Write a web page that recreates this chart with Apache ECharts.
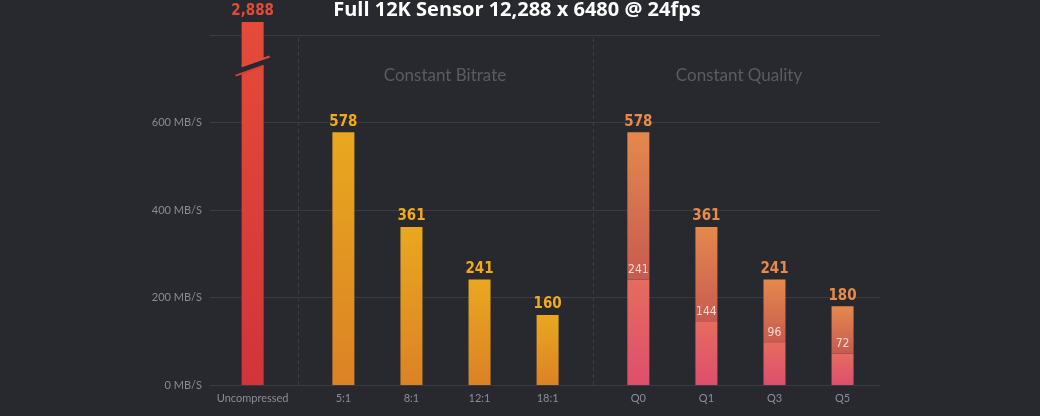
<!DOCTYPE html>
<html>
<head>
<meta charset="utf-8">
<script src="https://cdn.jsdelivr.net/npm/echarts@6/dist/echarts.min.js"></script>
<style>
  html, body { margin: 0; padding: 0; background: #27292e; }
  #chart { width: 1040px; height: 416px; }
</style>
</head>
<body>
<div id="chart"></div>
<script>
(function() {
  // values
  var chartTitle = 'Full 12K Sensor 12,288 x 6480 @ 24fps';
  var groupTitles = ['Constant Bitrate', 'Constant Quality'];
  var uncompressedLabel = 'Uncompressed';
  var uncompressedValue = 2888;
  var bitrateLabels = ['5:1', '8:1', '12:1', '18:1'];
  var bitrateValues = [578, 361, 241, 160];
  var qualityLabels = ['Q0', 'Q1', 'Q3', 'Q5'];
  var qualityValues = [578, 361, 241, 180];
  var qualityInner = [241, 144, 96, 72];
  var yTicks = [0, 200, 400, 600];
  var yMax = 800;
  var cutValue = 830;   // the uncompressed bar is drawn up to here
  var breakValue = 729; // where the break mark sits

  var bg = '#27292e';
  var grid = '#393b40';
  var cond = "'Liberation Sans Narrow', 'DejaVu Sans Condensed', sans-serif";
  var sans = "Lato, 'Open Sans', sans-serif";

  // slots on the category axis: 2 blanks between bars, 3 between groups
  var slots = [], dividers = [];
  [[uncompressedLabel], bitrateLabels, qualityLabels].forEach(function(g, gi) {
    if (gi > 0) {
      slots.push('gap' + slots.length);
      dividers.push('gap' + slots.length);
      slots.push('gap' + slots.length);
      slots.push('gap' + slots.length);
    }
    g.forEach(function(name, i) {
      if (i > 0) {
        slots.push('gap' + slots.length);
        slots.push('gap' + slots.length);
      }
      slots.push(name);
    });
  });

  function place(labels, values) {
    var out = slots.map(function() { return '-'; });
    labels.forEach(function(l, i) { out[slots.indexOf(l)] = values[i]; });
    return out;
  }
  function grad(top, bottom) {
    return new echarts.graphic.LinearGradient(0, 0, 0, 1, [
      { offset: 0, color: top }, { offset: 1, color: bottom }
    ]);
  }
  function topLabel(color) {
    return { show: true, position: 'top', distance: 3, color: color,
      fontFamily: cond, fontWeight: 'bold', fontSize: 15 };
  }

  var qualityTop = qualityValues.map(function(v, i) { return v - qualityInner[i]; });
  var barBase = { type: 'bar', xAxisIndex: 1, yAxisIndex: 1, barWidth: 22, barGap: '-100%', silent: true };

  var chart = echarts.init(document.getElementById('chart'), null, { renderer: 'canvas' });
  chart.setOption({
    animation: false,
    backgroundColor: bg,
    title: [
      { text: chartTitle, left: 517, top: 0, padding: 0, textAlign: 'center',
        textStyle: { color: '#ffffff', fontSize: 20, fontWeight: 'bold', fontFamily: "'Open Sans', Lato, sans-serif" } },
      { text: groupTitles[0], left: 445, top: 67, padding: 0, textAlign: 'center',
        textStyle: { color: '#5b5c61', fontSize: 17, fontWeight: 'normal', fontFamily: sans } },
      { text: groupTitles[1], left: 739, top: 67, padding: 0, textAlign: 'center',
        textStyle: { color: '#5b5c61', fontSize: 17, fontWeight: 'normal', fontFamily: sans } }
    ],
    grid: [
      { left: 210, right: 160, top: 35, bottom: 31 },
      { left: 241.3, right: 186.1, top: 35, bottom: 31 }
    ],
    xAxis: [
      { gridIndex: 0, type: 'category', data: [], show: false },
      { gridIndex: 1, type: 'category', data: slots,
        axisLine: { show: false }, axisTick: { show: false },
        axisLabel: { interval: 0, margin: 8, color: '#8d8e92', fontSize: 11, fontFamily: sans,
          formatter: function(v) { return v.indexOf('gap') === 0 ? '' : v; } } }
    ],
    yAxis: [
      { gridIndex: 0, type: 'value', min: 0, max: yMax, interval: 200,
        axisLine: { show: false }, axisTick: { show: false },
        axisLabel: { margin: 8, color: '#8b8c90', fontSize: 11, fontFamily: sans,
          formatter: function(v) { return yTicks.indexOf(v) >= 0 ? v + ' MB/S' : ''; } },
        splitLine: { lineStyle: { color: grid, width: 1 } } },
      { gridIndex: 1, type: 'value', min: 0, max: yMax, show: false, splitLine: { show: false } }
    ],
    series: [
      Object.assign({}, barBase, {
        name: uncompressedLabel, clip: false,
        data: place([uncompressedLabel], [Math.min(uncompressedValue, cutValue)]),
        itemStyle: { color: grad('#e54b39', '#d1343a') },
        label: Object.assign(topLabel('#e44a3b'), {
          formatter: function() { return uncompressedValue.toLocaleString('en-US'); } })
      }),
      Object.assign({}, barBase, {
        name: 'bitrate', data: place(bitrateLabels, bitrateValues),
        itemStyle: { color: grad('#e9a81f', '#db8226') },
        label: topLabel('#f2aa1c'),
        markLine: { silent: true, symbol: 'none', label: { show: false },
          lineStyle: { color: '#3b3d42', type: [4, 3], width: 1 },
          data: dividers.map(function(d) { return { xAxis: d }; }) }
      }),
      Object.assign({}, barBase, {
        name: 'qualityInner', stack: 'q', data: place(qualityLabels, qualityInner),
        itemStyle: { color: grad('#e66b5f', '#dd4f6d') }
      }),
      Object.assign({}, barBase, {
        name: 'qualityTop', stack: 'q', data: place(qualityLabels, qualityTop),
        itemStyle: { color: grad('#e4894c', '#c75a51') },
        label: { show: true, position: 'insideBottom', distance: 4, color: '#f6dcd3',
          fontFamily: cond, fontSize: 12,
          formatter: function(p) { return qualityInner[qualityLabels.indexOf(p.name)]; } }
      }),
      Object.assign({}, barBase, {
        name: 'qualityTotal', data: place(qualityLabels, qualityValues),
        itemStyle: { color: 'rgba(0,0,0,0)' },
        label: topLabel('#e98a4a')
      })
    ]
  });

  // break mark across the cut uncompressed bar
  var p = chart.convertToPixel({ xAxisIndex: 1, yAxisIndex: 1 }, [uncompressedLabel, breakValue]);
  var k = -0.35, h = 3.6;
  function y(x, off) { return x * k + off; }
  chart.setOption({
    graphic: [
      { type: 'polygon', x: p[0], y: p[1], silent: true, z: 100,
        shape: { points: [[-12, y(-12, -h)], [12, y(12, -h)], [12, y(12, h)], [-12, y(-12, h)]] },
        style: { fill: bg } },
      { type: 'line', x: p[0], y: p[1], silent: true, z: 101,
        shape: { x1: -11, y1: y(-11, -h), x2: 17, y2: y(17, -h) },
        style: { stroke: '#e24a39', lineWidth: 2 } },
      { type: 'line', x: p[0], y: p[1], silent: true, z: 101,
        shape: { x1: -17, y1: y(-17, h), x2: 11, y2: y(11, h) },
        style: { stroke: '#d83f3a', lineWidth: 2 } }
    ]
  });
})();
</script>
</body>
</html>
